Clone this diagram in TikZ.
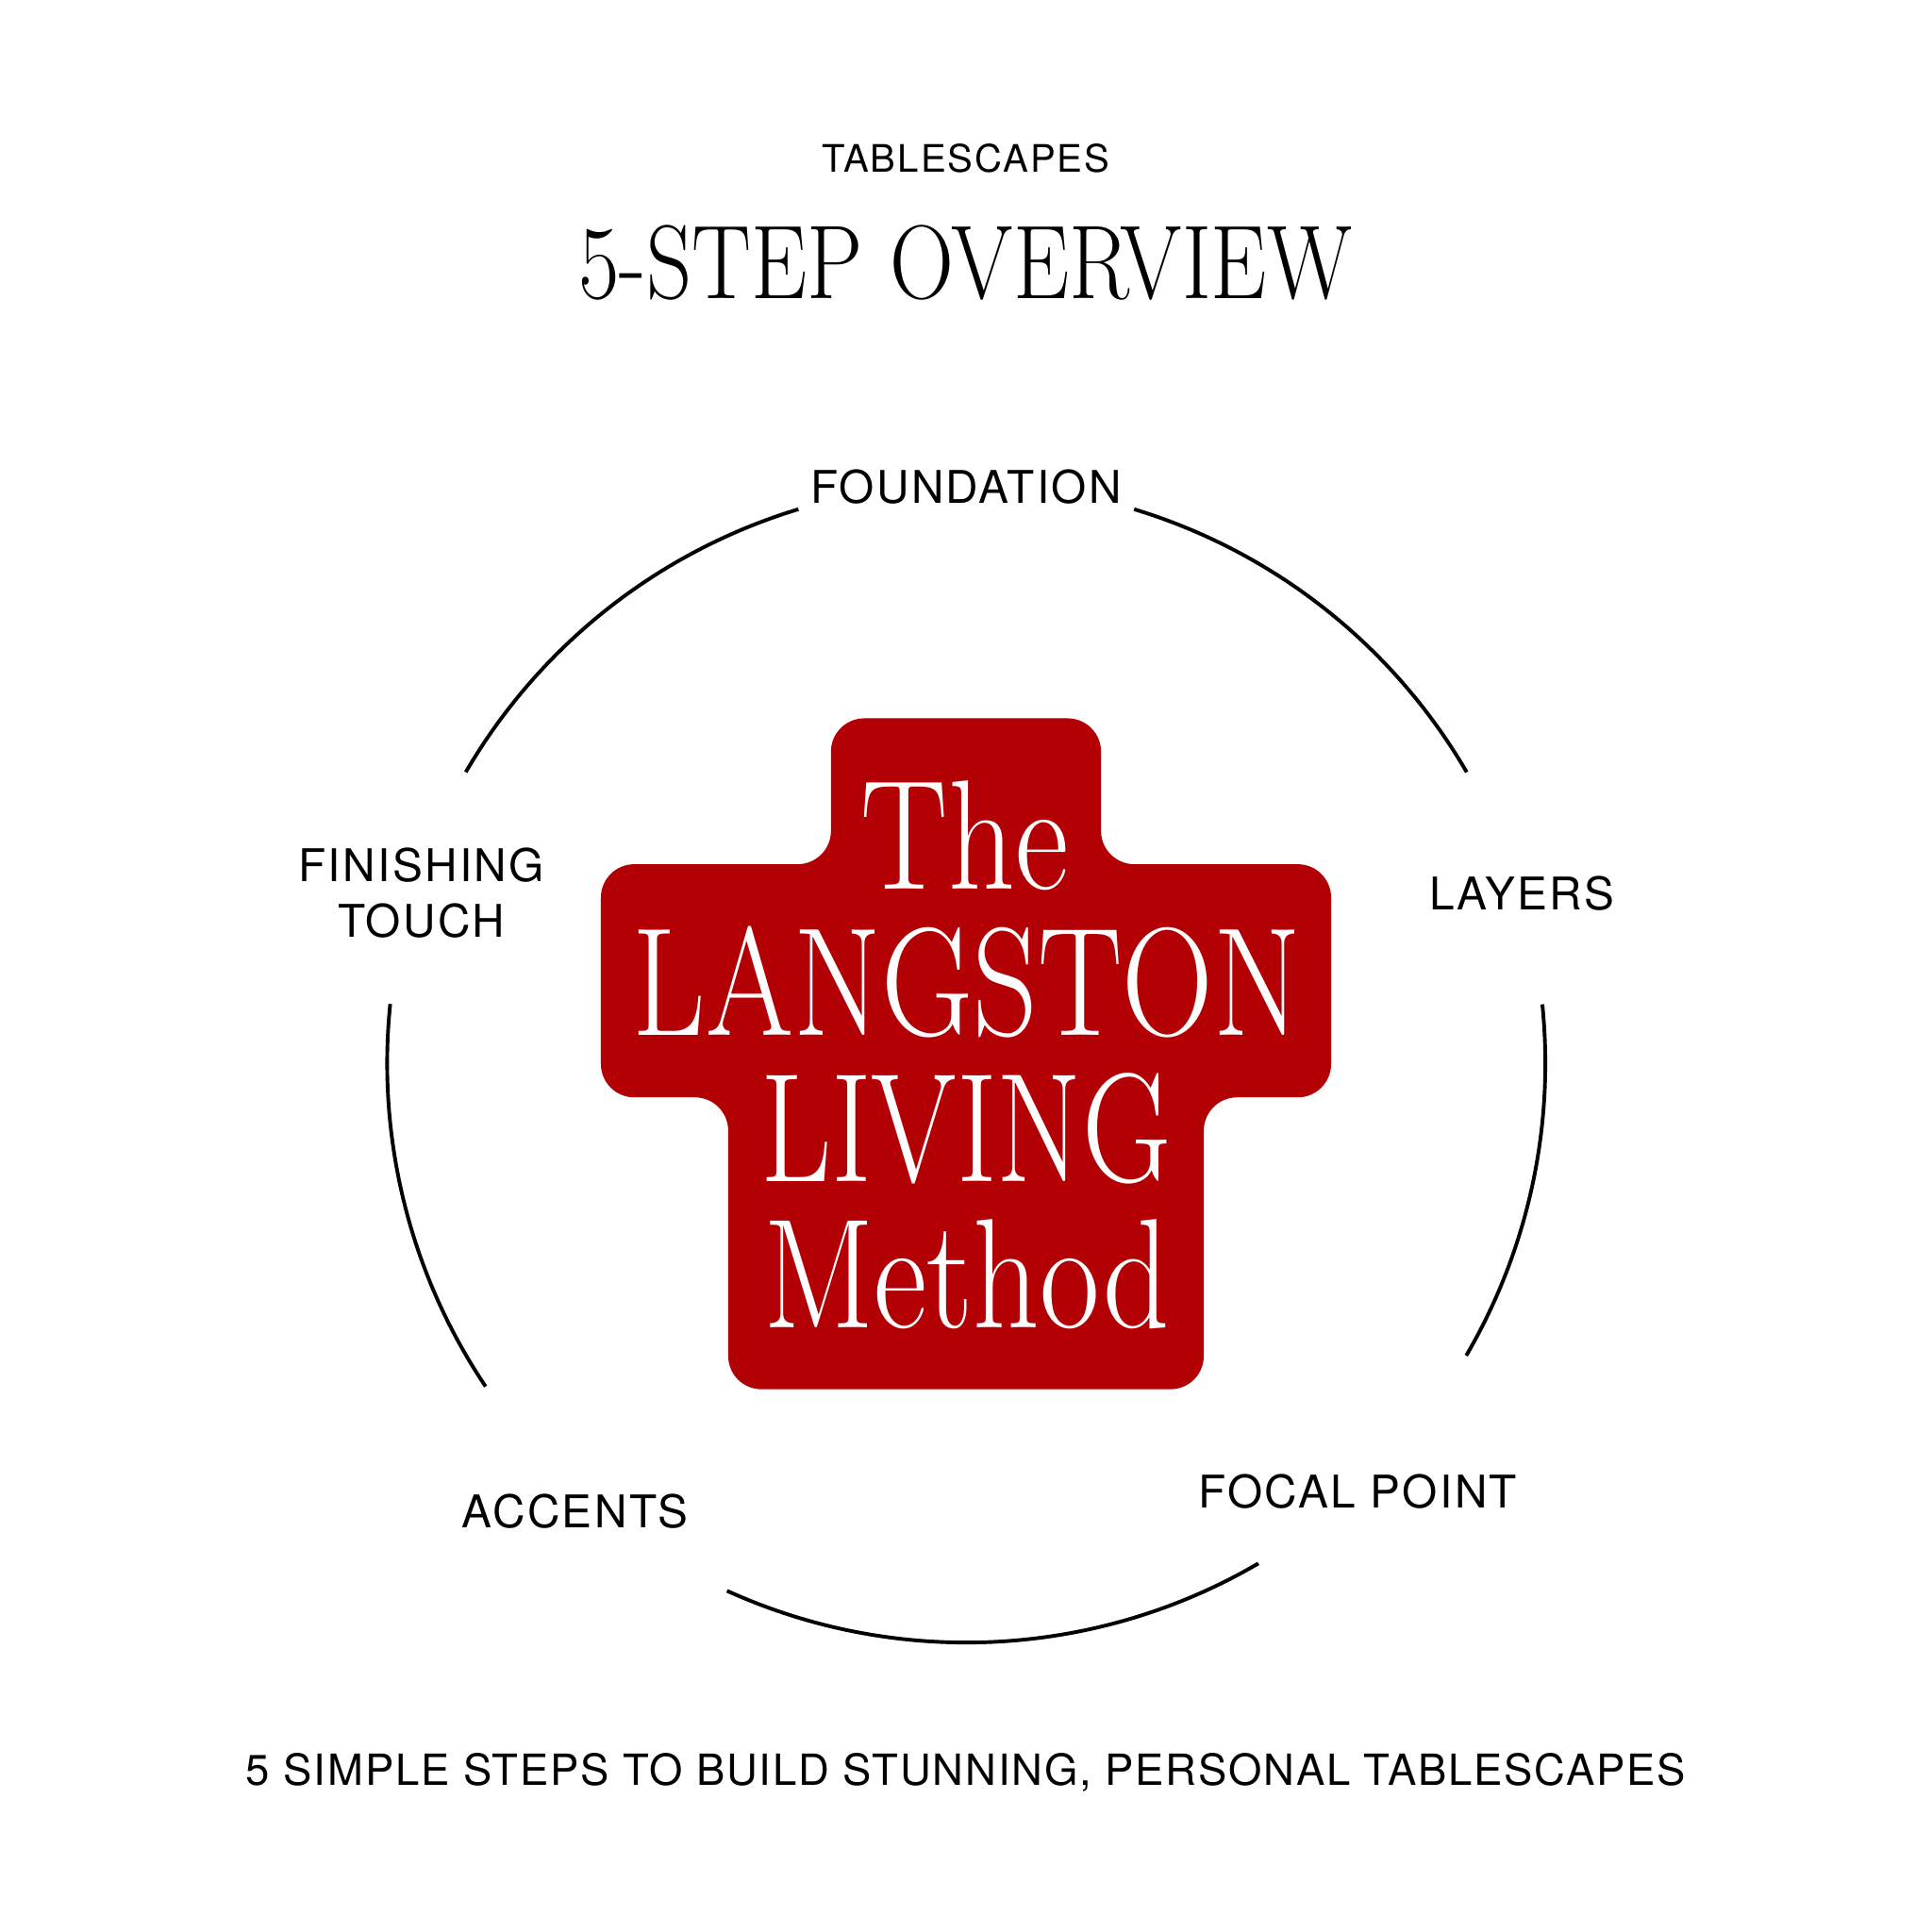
\documentclass[tikz,border=0pt]{standalone}
\usepackage{fontspec}
\usepackage{graphicx}
\usetikzlibrary{positioning, calc}
\newfontfamily\labelfont[LetterSpace=5]{TeX Gyre Heros}
\newfontfamily\taglinefont[LetterSpace=4]{TeX Gyre Heros}
\definecolor{langstonred}{HTML}{B30004}

\begin{document}
\begin{tikzpicture}[x=0.01cm, y=0.01cm,
  steplabel/.style={font=\labelfont\fontsize{10.4}{12.8}\selectfont, inner sep=0pt, align=center},
  serifline/.style={text=white, anchor=base, inner sep=0pt, font=\fontsize{36}{40}\selectfont},
  ring/.style={line width=0.85pt}]
\useasboundingbox (0,0) rectangle (1568,1568);
\fill[white] (0,0) rectangle (1568,1568);

% heading
\node[anchor=base, inner sep=0pt, font=\labelfont\fontsize{8.74}{10}\selectfont](kicker) at (784,1428) {TABLESCAPES};
\node[anchor=base, inner sep=0pt, font=\fontsize{25}{30}\selectfont](overview) at (783.5,1326) {\resizebox{6.27cm}{0.595cm}{5-STEP OVERVIEW}};

% the cross
\fill[langstonred, rounded corners=0.27cm] (674.4,985) -- (893.6,985) -- (893.6,866.6) -- (1080.3,866.6) -- (1080.3,677.4) -- (977,677.4) -- (977,440.5) -- (591,440.5) -- (591,677.4) -- (487.7,677.4) -- (487.7,866.6) -- (674.4,866.6) -- cycle;
\node[serifline](the) at (782.9,846.2) {\resizebox{1.68cm}{0.879cm}{The}};
\node[serifline](langston) at (784.8,727.5) {\resizebox{5.42cm}{0.885cm}{LANGSTON}};
\node[serifline](living) at (784,608.7) {\resizebox{3.336cm}{0.88cm}{LIVING}};
\node[serifline](method) at (784.4,490.3) {\resizebox{3.296cm}{0.879cm}{Method}};

% the five steps
\node[steplabel, anchor=base](foundation) at (784,1159.5) {FOUNDATION};
\node[steplabel, anchor=base](layers) at (1235.3,829.7) {LAYERS};
\node[steplabel, anchor=base](focal) at (1102,344.2) {FOCAL POINT};
\node[steplabel, anchor=base](accents) at (466.6,328) {ACCENTS};
\node[steplabel](finishing) at (342,843.2) {FINISHING\\TOUCH};

% ring pieces between the steps
\coordinate (hub) at (784.2,704.9);
\draw[ring] (hub) ++(30.2:470) arc[start angle=30.2, end angle=73.15, radius=470];
\draw[ring] (hub) ++(106.85:470) arc[start angle=106.85, end angle=149.8, radius=470];
\draw[ring] (hub) ++(174.1:470) arc[start angle=174.1, end angle=213.9, radius=470];
\draw[ring] (hub) ++(245.6:470) arc[start angle=245.6, end angle=300.3, radius=470];
\draw[ring] (hub) ++(-30.3:470) arc[start angle=-30.3, end angle=5.86, radius=470];

\node[anchor=base, inner sep=0pt, font=\taglinefont\fontsize{9.9}{12}\selectfont](tagline) at (784,119) {5 SIMPLE STEPS TO BUILD STUNNING, PERSONAL TABLESCAPES};
\end{tikzpicture}
\end{document}
